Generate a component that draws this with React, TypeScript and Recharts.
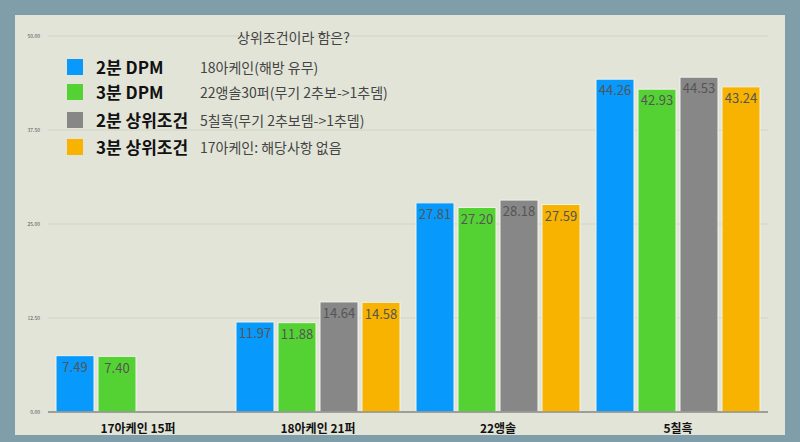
import { BarChart, Bar, XAxis, YAxis, CartesianGrid, LabelList } from 'recharts';

const CATEGORIES = ['17아케인 15퍼', '18아케인 21퍼', '22앵솔', '5칠흑'];
const DPM_2 = [7.49, 11.97, 27.81, 44.26];
const DPM_3 = [7.4, 11.88, 27.2, 42.93];
const TOP_2 = [null, 14.64, 28.18, 44.53];
const TOP_3 = [null, 14.58, 27.59, 43.24];
const Y_TICKS = [0, 12.5, 25, 37.5, 50];

const SERIES = [
  { key: 'dpm2', name: '2분 DPM', color: '#0799fb', values: DPM_2, note: '18아케인(해방 유무)' },
  { key: 'dpm3', name: '3분 DPM', color: '#55d233', values: DPM_3, note: '22앵솔30퍼(무기 2추보->1추뎀)' },
  { key: 'top2', name: '2분 상위조건', color: '#878787', values: TOP_2, note: '5칠흑(무기 2추보뎀->1추뎀)' },
  { key: 'top3', name: '3분 상위조건', color: '#f8b300', values: TOP_3, note: '17아케인: 해당사항 없음' },
];

const ROW_CENTERS = [67, 92, 120, 147];

const FONT = '"Noto Sans CJK KR", "Noto Sans", sans-serif';

const chartData = CATEGORIES.map((cat, i) => {
  const row: Record<string, any> = { cat };
  SERIES.forEach((s) => (row[s.key] = s.values[i]));
  return row;
});

// legend box drawn over the plot, like the slide's text block
function LegendBox() {
  return (
    <div style={{ fontFamily: FONT, position: 'absolute', left: 0, top: 0, pointerEvents: 'none' }}>
      <div style={{ position: 'absolute', left: 237, top: 27, fontSize: 14, color: '#444', whiteSpace: 'nowrap', lineHeight: '20px' }}>
        상위조건이라 함은?
      </div>
      {SERIES.map((s, i) => (
        <div key={s.key}>
          <div style={{ position: 'absolute', left: 67, top: ROW_CENTERS[i] - 8, width: 16, height: 16, background: s.color }} />
          <div style={{ position: 'absolute', left: 96, top: ROW_CENTERS[i] - 12, lineHeight: '24px', fontSize: 17, fontWeight: 'bold', color: '#111', whiteSpace: 'nowrap' }}>
            {s.name}
          </div>
          <div style={{ position: 'absolute', left: 200, top: ROW_CENTERS[i] - 11, lineHeight: '22px', fontSize: 14, color: '#444', whiteSpace: 'nowrap' }}>
            {s.note}
          </div>
        </div>
      ))}
    </div>
  );
}

export default function App() {
  return (
    <div style={{ position: 'absolute', left: 0, top: 0, width: 800, height: 442, background: '#7f9ea9', overflow: 'hidden' }}>
      <div style={{ position: 'absolute', left: 15, top: 15, width: 770, height: 420, background: '#e2e4d8' }} />
      <div style={{ position: 'absolute', left: 0, top: 0 }}>
        <BarChart
          width={800}
          height={442}
          data={chartData}
          margin={{ top: 36, right: 32, bottom: 0, left: 0 }}
          barCategoryGap={8}
          barGap={4}
        >
          <CartesianGrid vertical={false} stroke="#d2d4c8" />
          <XAxis
            dataKey="cat"
            height={30}
            axisLine={{ stroke: '#8a8a86', strokeWidth: 1.5 }}
            tickLine={false}
            tick={{ fontSize: 12, fontWeight: 'bold', fill: '#111', fontFamily: FONT }}
            tickMargin={6}
          />
          <YAxis
            width={48}
            domain={[0, 50]}
            ticks={Y_TICKS}
            axisLine={false}
            tickLine={false}
            tickFormatter={(v: number) => v.toFixed(2)}
            tick={{ fontSize: 5, fill: '#555', fontFamily: FONT }}
          />
          {SERIES.map((s) => (
            <Bar key={s.key} dataKey={s.key} name={s.name} fill={s.color} stroke="#f2f2ea" strokeWidth={1} isAnimationActive={false}>
              <LabelList
                dataKey={s.key}
                position="insideTop"
                offset={7}
                formatter={(v: any) => (v == null ? '' : Number(v).toFixed(2))}
                style={{ fontSize: 13, fill: '#555', fontFamily: FONT }}
              />
            </Bar>
          ))}
        </BarChart>
      </div>
      <LegendBox />
    </div>
  );
}
